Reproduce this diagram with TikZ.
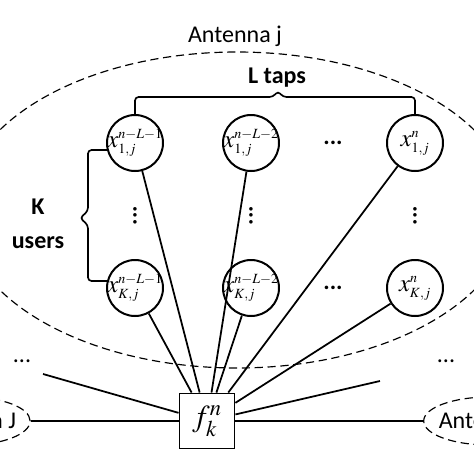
\documentclass[tikz,border=0pt]{standalone}
\usepackage{mathptmx}
\usepackage[no-math]{fontspec}
\setmainfont{Carlito}
\usepackage{tikz}
\usetikzlibrary{positioning, calc, shapes.geometric}

% small scripts in the tap labels
\DeclareMathSizes{21}{21}{12}{9}
% label that may run over the circle, as in the drawing
\newcommand{\taplabel}[1]{\makebox[0pt]{$#1$}}

\begin{document}
\begin{tikzpicture}[
        tap/.style={circle, on grid, draw=black, line width=1.7pt, minimum size=1.68cm, inner sep=0pt, font=\fontsize{21}{25}\selectfont},
        combiner/.style={rectangle, draw=black, line width=1.6pt, minimum size=1.65cm, inner sep=0pt, font=\fontsize{26}{30}\selectfont},
        antenna/.style={ellipse, draw=black, dash pattern=on 7pt off 4pt, line width=1pt, inner xsep=-0.12cm, inner ysep=0pt, minimum height=1.44cm, font=\fontsize{20.5}{24.6}\selectfont},
        link/.style={line width=1.5pt},
        brace/.style={line width=1.4pt, rounded corners=3pt},
        caption/.style={font=\fontsize{20.5}{24.6}\selectfont},
        bcaption/.style={font=\fontsize{20.5}{29}\selectfont\bfseries},
        hdots/.style={font=\fontsize{20.5}{24}\selectfont\bfseries}
    ]
        \useasboundingbox (0,0) rectangle (14.22,-14.22);
        \clip (0,0) rectangle (14.22,-14.22);

        % Antenna j
        \draw[dash pattern=on 7pt off 4pt, line width=1pt] (7.11,-6.30) ellipse [x radius=8.25cm, y radius=4.74cm];
        \node[caption, anchor=base] (title) at (7.05,-1.26) {Antenna j};

        % Taps
        \node[tap] (c11) at (4.05,-4.29) {\taplabel{x^{n-L-1}_{1,j}}};
        \node[tap, right=3.48cm of c11] (c12) {\taplabel{x^{n-L-2}_{1,j}}};
        \node[tap, right=4.92cm of c12] (c13) {\taplabel{x^{n}_{1,j}}};
        \node[tap, below=4.35cm of c11] (c21) {\taplabel{x^{n-L-1}_{K,j}}};
        \node[tap, below=4.35cm of c12] (c22) {\taplabel{x^{n-L-2}_{K,j}}};
        \node[tap, below=4.35cm of c13] (c23) {\taplabel{x^{n}_{K,j}}};

        \node[hdots] at ($(c12)!0.5!(c13)$) {...};
        \node[hdots] at ($(c22)!0.5!(c23)$) {...};
        \foreach \col in {1,2,3}
            \node[hdots, rotate=90] at ($(c1\col)!0.5!(c2\col)$) {...};

        % Braces
        \draw[brace] (c11.north) |- (8.19,-2.91) -- (8.34,-2.73) -- (8.49,-2.91) -| (c13.north);
        \node[bcaption, anchor=base] (ltaps) at (8.31,-2.49) {L taps};
        \draw[brace] (c11.194) -| (2.64,-6.33) -- (2.40,-6.54) -- (2.64,-6.75) |- (c21.166);
        \node[bcaption, align=center] (kusers) at (1.14,-6.72) {K\\users};

        % Combiner and other antennas
        \node[combiner] (f) at (6.21,-12.63) {$f^{n}_{k}$};
        \node[antenna] (antJ) at (-0.96,-12.63) {Antenna J};
        \node[antenna] (ant1) at (14.67,-12.63) {Antenna 1};
        \node[caption] (moreL) at (0.66,-10.83) {...};
        \node[caption] (moreR) at (13.38,-10.83) {...};
        \coordinate (inL) at (1.29,-11.22);
        \coordinate (inR) at (11.40,-11.43);

        % Links
        \foreach \c in {c11,c12,c13,c21,c22,c23}
            \draw[link] (\c) -- (f);
        \draw[link] (inL) -- (f);
        \draw[link] (inR) -- (f);
        \draw[link] (antJ) -- (f);
        \draw[link] (f) -- (ant1);
    \end{tikzpicture}
\end{document}
